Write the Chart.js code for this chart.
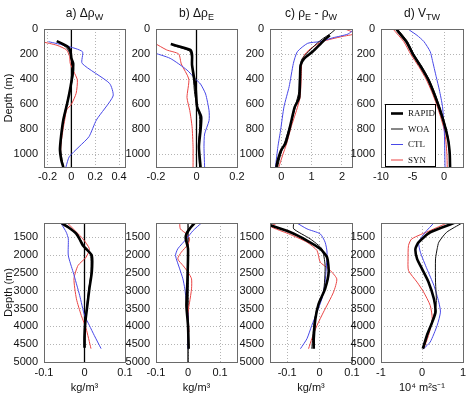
<!DOCTYPE html>
<html>
<head>
<meta charset="utf-8">
<script src="https://cdn.jsdelivr.net/npm/chart.js@4.4.0/dist/chart.umd.min.js"></script>
<style>
  html, body { margin: 0; padding: 0; background: #fff; }
  #wrap { position: relative; width: 474px; height: 397px; overflow: hidden; }
  #wrap canvas { position: absolute; left: 0; top: 0; }
</style>
</head>
<body>
<div id="wrap"></div>
<script>
// ---- tick values ----
const topDepthTicks = [0, 200, 400, 600, 800, 1000];
const botDepthTicks = [1500, 2000, 2500, 3000, 3500, 4000, 4500, 5000];
const aTopTicks = [-0.2, 0, 0.2, 0.4];
const bTopTicks = [-0.2, 0, 0.2];
const cTopTicks = [0, 1, 2];
const dTopTicks = [-10, -5, 0];
const aBotTicks = [-0.1, 0, 0.1];
const bBotTicks = [-0.1, 0, 0.1];
const cBotTicks = [-0.1, 0, 0.1];
const dBotTicks = [-1, 0, 1];

// ---- a) delta rho W, 0-1100 m ----
const aTopRapidDepth = [96, 141, 181, 234, 274, 354, 460, 592, 725, 858, 964, 1044, 1100];
const aTopRapid      = [-0.123, -0.03, -0.007, 0.0, 0.015, 0.01, -0.007, -0.035, -0.068, -0.087, -0.096, -0.085, -0.068];
const aTopWoaDepth   = [110, 150, 200, 260, 330, 420, 520, 620, 730, 850, 960, 1060, 1100];
const aTopWoa        = [-0.10, -0.04, -0.01, 0.01, 0.02, 0.005, -0.02, -0.045, -0.07, -0.085, -0.09, -0.075, -0.065];
const aTopCtlDepth   = [101, 135, 181, 274, 433, 534, 725, 858, 938, 1018, 1100];
const aTopCtl        = [-0.193, -0.04, 0.093, 0.09, 0.32, 0.35, 0.21, 0.148, 0.065, -0.018, -0.046];
const aTopSynDepth   = [101, 130, 167, 220, 273, 340, 406, 512, 600, 645, 720, 800, 900, 1000, 1100];
const aTopSyn        = [-0.25, -0.12, -0.04, -0.015, -0.01, 0.02, 0.05, 0.04, 0.0, -0.04, -0.055, -0.07, -0.085, -0.09, -0.07];

// ---- b) delta rho E, 0-1100 m ----
const bTopRapidDepth = [120, 167, 207, 287, 460, 620, 700, 805, 938, 1100];
const bTopRapid      = [-0.127, -0.03, -0.022, -0.022, -0.005, 0.003, 0.023, 0.02, 0.012, 0.02];
const bTopWoaDepth   = [130, 175, 220, 300, 400, 500, 600, 700, 800, 900, 1000, 1100];
const bTopWoa        = [-0.12, -0.035, -0.025, -0.02, -0.015, -0.01, 0.0, 0.015, 0.015, 0.01, 0.012, 0.015];
const bTopCtlDepth   = [185, 234, 327, 399, 439, 518, 651, 730, 837, 938, 1100];
const bTopCtl        = [-0.22, -0.13, -0.047, -0.005, 0.02, 0.045, 0.062, 0.062, 0.04, 0.037, 0.04];
const bTopSynDepth   = [110, 167, 199, 279, 399, 546, 651, 778, 938, 1100];
const bTopSyn        = [-0.21, -0.147, -0.088, -0.075, -0.038, -0.047, -0.033, -0.022, -0.017, -0.017];

// ---- c) rho E - rho W, 0-1100 m ----
const cTopRapidDepth = [50, 80, 114, 181, 234, 287, 380, 546, 625, 778, 911, 964, 1044, 1100];
const cTopRapid      = [1.6, 1.45, 1.31, 1.03, 0.76, 0.64, 0.62, 0.59, 0.44, 0.29, 0.14, 0.0, -0.11, -0.16];
const cTopWoaDepth   = [0, 40, 80, 120, 180, 240, 300, 400, 500, 600, 700, 800, 900, 1000, 1100];
const cTopWoa        = [1.8, 1.6, 1.35, 1.15, 0.9, 0.68, 0.62, 0.6, 0.58, 0.48, 0.38, 0.25, 0.12, -0.02, -0.12];
const cTopCtlDepth   = [0, 40, 70, 101, 114, 181, 274, 460, 620, 805, 938, 1100];
const cTopCtl        = [2.4, 2.2, 1.7, 1.26, 0.87, 0.53, 0.4, 0.26, 0.09, -0.02, -0.11, -0.19];
const cTopSynDepth   = [0, 20, 40, 60, 100, 150, 200, 260, 380, 546, 651, 778, 911, 1011, 1100];
const cTopSyn        = [2.1, 2.3, 2.4, 2.0, 1.35, 1.0, 0.78, 0.68, 0.66, 0.62, 0.5, 0.33, 0.18, 0.04, -0.08];

// ---- d) V_TW, 0-1100 m ----
const dTopDepth      = [0, 100, 200, 300, 400, 500, 600, 700, 800, 900, 1000, 1100];
const dTopRapid      = [-7.6, -6.0, -4.95, -3.7, -2.55, -1.7, -0.96, -0.3, 0.27, 0.7, 0.9, 0.95];
const dTopWoa        = [-7.4, -5.8, -4.8, -3.5, -2.4, -1.55, -0.85, -0.2, 0.35, 0.75, 0.95, 1.0];
const dTopSyn        = [-8.1, -6.4, -5.3, -4.0, -2.85, -1.95, -1.2, -0.55, 0.0, 0.3, 0.45, 0.5];
const dTopCtlDepth   = [0, 50, 100, 180, 250, 380, 486, 618, 830, 1100];
const dTopCtl        = [-5.75, -4.3, -3.2, -2.2, -1.85, -1.25, -0.75, -0.25, 0.05, 0.15];

// ---- a) lower, 1100-5000 m ----
const aBotRapidDepth = [1100, 1220, 1405, 1600, 1730, 1850, 2010, 2480, 2945, 3412, 3878, 4300, 4600];
const aBotRapid      = [-0.057, -0.04, -0.02, -0.01, -0.004, 0.006, 0.018, 0.018, 0.012, 0.007, 0.002, 0.0, 0.0];
const aBotWoaDepth   = [1100, 1250, 1400, 1600, 1800, 2000, 2500, 3000, 3500, 4000, 4600];
const aBotWoa        = [-0.055, -0.035, -0.018, -0.008, 0.002, 0.015, 0.016, 0.01, 0.005, 0.002, 0.001];
const aBotCtlDepth   = [1125, 1360, 1545, 2012, 2480, 3130, 3692, 3972, 4252, 4625];
const aBotCtl        = [-0.057, -0.045, -0.04, -0.04, -0.028, -0.012, 0.0, 0.012, 0.024, 0.041];
const aBotSynDepth   = [1125, 1545, 1825, 2060, 2292, 2665, 3225, 3692, 4065, 4625];
const aBotSyn        = [-0.04, -0.004, 0.012, 0.004, -0.016, -0.026, -0.02, -0.008, 0.004, 0.016];

// ---- b) lower ----
const bBotRapidDepth = [1100, 1265, 1405, 1545, 1825, 2760, 3413, 3973, 4627];
const bBotRapid      = [0.021, 0.005, -0.005, -0.007, 0.0, -0.002, -0.005, 0.0, 0.002];
const bBotWoaDepth   = [1100, 1265, 1405, 1545, 1825, 2500, 3400, 4000, 4627];
const bBotWoa        = [0.016, 0.003, -0.006, -0.006, 0.0, -0.001, -0.003, 0.001, 0.002];
const bBotCtlDepth   = [1100, 1312, 1545, 1825, 2013, 2387, 2667, 2947, 3320, 3700, 4627];
const bBotCtl        = [0.042, 0.016, -0.005, -0.032, -0.039, -0.026, -0.016, -0.01, -0.005, 0.0, 0.0];
const bBotSynDepth   = [1100, 1265, 1405, 1545, 1700, 1919, 2107, 2300, 2480, 2667, 2947, 3320, 3600, 4160];
const bBotSyn        = [-0.026, -0.024, -0.005, 0.005, 0.0, -0.021, -0.032, -0.015, 0.0, 0.011, 0.011, 0.005, 0.0, 0.003];

// ---- c) lower ----
const cBotRapidDepth = [1140, 1360, 1592, 1825, 2060, 2480, 2947, 3367, 3787, 4347, 4627];
const cBotRapid      = [-0.16, -0.09, -0.039, 0.002, 0.023, 0.028, 0.017, -0.003, -0.013, -0.018, -0.018];
const cBotWoaDepth   = [1100, 1265, 1545, 1825, 2293, 3040, 3507, 3973, 4627];
const cBotWoa        = [-0.08, -0.08, -0.029, 0.007, 0.017, 0.012, -0.008, -0.018, -0.024];
const cBotCtlDepth   = [1100, 1265, 1405, 1638, 1919, 2760, 3227, 3600, 3973, 4347, 4627];
const cBotCtl        = [-0.07, -0.039, 0.002, 0.017, 0.023, 0.017, 0.007, -0.008, -0.024, -0.039, -0.059];
const cBotSynDepth   = [1100, 1200, 1405, 1638, 1872, 2200, 2387, 2667, 3040, 3600, 3973, 4347, 4627];
const cBotSyn        = [-0.131, -0.15, -0.095, -0.039, -0.008, 0.002, 0.028, 0.053, 0.043, 0.012, -0.008, -0.024, -0.034];

// ---- d) lower ----
const dBotRapidDepth = [1100, 1360, 1638, 1825, 2107, 2387, 2760, 3227, 3600, 3880, 4253, 4627];
const dBotRapid      = [0.78, 0.2, -0.08, -0.16, -0.12, 0.0, 0.16, 0.29, 0.33, 0.25, 0.12, 0.02];
const dBotWoaDepth   = [1100, 1360, 1638, 1825, 2107, 2760, 3320, 3693, 4160, 4627];
const dBotWoa        = [0.98, 0.6, 0.41, 0.37, 0.33, 0.33, 0.35, 0.29, 0.16, 0.04];
const dBotCtlDepth   = [1100, 1360, 1638, 1919, 2387, 2853, 3320, 3600, 3973, 4440, 4627];
const dBotCtl        = [0.29, 0.08, -0.08, -0.04, 0.12, 0.29, 0.41, 0.45, 0.37, 0.2, 0.04];
const dBotSynDepth   = [1100, 1312, 1545, 1733, 2107, 2433, 2760, 3040, 3413, 3787, 4253, 4627];
const dBotSyn        = [0.61, 0.2, -0.25, -0.33, -0.34, -0.33, -0.12, 0.04, 0.2, 0.25, 0.16, 0.04];

// ---- layout ----
const W = 474, H = 397;
const rows = { top: { t: 29, b: 167, yMin: 0, yMax: 1100, ticks: topDepthTicks, pad: 3 },
               bot: { t: 223, b: 362, yMin: 1100, yMax: 5000, ticks: botDepthTicks, pad: 4 } };
const cols = { a: { l: 44, r: 125 }, b: { l: 156, r: 237 }, c: { l: 270, r: 352 }, d: { l: 381, r: 463 } };

const styles = {
  RAPID: { color: '#000000', width: 2.6 },
  WOA:   { color: '#111111', width: 1 },
  CTL:   { color: '#4848e8', width: 1 },
  SYN:   { color: '#ea4444', width: 1 }
};

function line(name, depth, vals) {
  return {
    label: name,
    data: depth.map((d, i) => ({ x: vals[i], y: d })),
    showLine: true,
    borderColor: styles[name].color,
    borderWidth: styles[name].width,
    pointRadius: 0,
    tension: 0.2,
    fill: false
  };
}

const panels = [
  { col: 'a', row: 'top', xMin: -0.23, xMax: 0.45, xTicks: aTopTicks, zero: true, depthLabel: true,
    title: [['a) Δρ', 0], ['W', 1]],
    data: [line('RAPID', aTopRapidDepth, aTopRapid), line('WOA', aTopWoaDepth, aTopWoa),
           line('CTL', aTopCtlDepth, aTopCtl), line('SYN', aTopSynDepth, aTopSyn)] },
  { col: 'b', row: 'top', xMin: -0.2, xMax: 0.2, xTicks: bTopTicks, zero: true,
    title: [['b) Δρ', 0], ['E', 1]],
    data: [line('RAPID', bTopRapidDepth, bTopRapid), line('WOA', bTopWoaDepth, bTopWoa),
           line('CTL', bTopCtlDepth, bTopCtl), line('SYN', bTopSynDepth, bTopSyn)] },
  { col: 'c', row: 'top', xMin: -0.37, xMax: 2.33, xTicks: cTopTicks,
    title: [['c) ρ', 0], ['E', 1], [' - ρ', 0], ['W', 1]],
    data: [line('RAPID', cTopRapidDepth, cTopRapid), line('WOA', cTopWoaDepth, cTopWoa),
           line('CTL', cTopCtlDepth, cTopCtl), line('SYN', cTopSynDepth, cTopSyn)] },
  { col: 'd', row: 'top', xMin: -10, xMax: 3, xTicks: dTopTicks, legend: true,
    title: [['d) V', 0], ['TW', 1]],
    data: [line('RAPID', dTopDepth, dTopRapid), line('WOA', dTopDepth, dTopWoa),
           line('CTL', dTopCtlDepth, dTopCtl), line('SYN', dTopDepth, dTopSyn)] },
  { col: 'a', row: 'bot', xMin: -0.1, xMax: 0.1, xTicks: aBotTicks, zero: true, depthLabel: true, xTitle: 'kg/m³',
    data: [line('RAPID', aBotRapidDepth, aBotRapid), line('WOA', aBotWoaDepth, aBotWoa),
           line('CTL', aBotCtlDepth, aBotCtl), line('SYN', aBotSynDepth, aBotSyn)] },
  { col: 'b', row: 'bot', xMin: -0.1, xMax: 0.153, xTicks: bBotTicks, zero: true, xTitle: 'kg/m³',
    data: [line('RAPID', bBotRapidDepth, bBotRapid), line('WOA', bBotWoaDepth, bBotWoa),
           line('CTL', bBotCtlDepth, bBotCtl), line('SYN', bBotSynDepth, bBotSyn)] },
  { col: 'c', row: 'bot', xMin: -0.153, xMax: 0.1, xTicks: cBotTicks, xTitle: 'kg/m³',
    data: [line('RAPID', cBotRapidDepth, cBotRapid), line('WOA', cBotWoaDepth, cBotWoa),
           line('CTL', cBotCtlDepth, cBotCtl), line('SYN', cBotSynDepth, cBotSyn)] },
  { col: 'd', row: 'bot', xMin: -1, xMax: 1, xTicks: dBotTicks, xTitle: '10⁴ m²s⁻¹',
    data: [line('RAPID', dBotRapidDepth, dBotRapid), line('WOA', dBotWoaDepth, dBotWoa),
           line('CTL', dBotCtlDepth, dBotCtl), line('SYN', dBotSynDepth, dBotSyn)] }
];

const FONT = '"Liberation Sans", Arial, sans-serif';

// frame, zero line, titles and legend
const decor = {
  id: 'decor',
  beforeDatasetsDraw(chart) {
    const p = chart.options.plugins.decor;
    const a = chart.chartArea;
    if (p.zero) {
      const x = chart.scales.x.getPixelForValue(0);
      const ctx = chart.ctx;
      ctx.save();
      ctx.strokeStyle = '#000';
      ctx.lineWidth = 1.3;
      ctx.beginPath();
      ctx.moveTo(x, a.top);
      ctx.lineTo(x, a.bottom);
      ctx.stroke();
      ctx.restore();
    }
  },
  afterDraw(chart) {
    const p = chart.options.plugins.decor;
    const a = chart.chartArea;
    const ctx = chart.ctx;
    ctx.save();
    ctx.strokeStyle = '#6a6a6a';
    ctx.lineWidth = 1;
    ctx.strokeRect(Math.round(a.left) + 0.5, Math.round(a.top) + 0.5,
                   Math.round(a.right - a.left), Math.round(a.bottom - a.top));
    const cx = (a.left + a.right) / 2;
    ctx.fillStyle = '#111';

    if (p.title) {
      let total = 0;
      p.title.forEach(([t, sub]) => {
        ctx.font = (sub ? '9px ' : '12px ') + FONT;
        total += ctx.measureText(t).width;
      });
      let x = cx - total / 2;
      ctx.textAlign = 'left';
      ctx.textBaseline = 'alphabetic';
      p.title.forEach(([t, sub]) => {
        ctx.font = (sub ? '9px ' : '12px ') + FONT;
        ctx.fillText(t, x, sub ? 20 : 17);
        x += ctx.measureText(t).width;
      });
    }
    if (p.xTitle) {
      ctx.font = '11px ' + FONT;
      ctx.textAlign = 'center';
      ctx.textBaseline = 'middle';
      ctx.fillText(p.xTitle, cx, 388);
    }
    if (p.depthLabel) {
      ctx.font = '11px ' + FONT;
      ctx.textAlign = 'center';
      ctx.textBaseline = 'middle';
      ctx.translate(9, (a.top + a.bottom) / 2);
      ctx.rotate(-Math.PI / 2);
      ctx.fillText('Depth (m)', 0, 0);
      ctx.setTransform(1, 0, 0, 1, 0, 0);
    }
    if (p.legend) {
      const bx = 385, by = 104, bw = 50, bh = 62;
      ctx.fillStyle = '#fff';
      ctx.fillRect(bx, by, bw, bh);
      ctx.strokeStyle = '#000';
      ctx.lineWidth = 1;
      ctx.strokeRect(bx + 0.5, by + 0.5, bw, bh);
      ctx.font = '9px "Liberation Serif", "Times New Roman", serif';
      ctx.textAlign = 'left';
      ctx.textBaseline = 'middle';
      chart.data.datasets.forEach((ds, i) => {
        const y = by + 9.5 + i * 15.5;
        ctx.strokeStyle = ds.borderColor;
        ctx.lineWidth = ds.borderWidth;
        ctx.beginPath();
        ctx.moveTo(bx + 6, y);
        ctx.lineTo(bx + 18, y);
        ctx.stroke();
        ctx.fillStyle = '#111';
        ctx.fillText(ds.label, bx + 23, y + 0.5);
      });
    }
    ctx.restore();
  }
};

const wrap = document.getElementById('wrap');

panels.forEach(p => {
  const r = rows[p.row], c = cols[p.col];
  const cv = document.createElement('canvas');
  cv.width = W; cv.height = H;
  cv.style.width = W + 'px'; cv.style.height = H + 'px';
  wrap.appendChild(cv);

  // axis boxes take the whole margin so tick labels are not clipped
  new Chart(cv, {
    type: 'scatter',
    data: { datasets: p.data },
    options: {
      responsive: false,
      animation: false,
      devicePixelRatio: 1,
      layout: { padding: { left: 0, right: W - c.r, top: r.t, bottom: 0 } },
      plugins: {
        legend: { display: false },
        tooltip: { enabled: false },
        decor: { zero: p.zero, title: p.title, xTitle: p.xTitle, depthLabel: p.depthLabel, legend: p.legend }
      },
      scales: {
        x: {
          type: 'linear', min: p.xMin, max: p.xMax,
          afterBuildTicks: s => { s.ticks = p.xTicks.map(v => ({ value: v })); },
          afterFit: s => { s.height = H - r.b; },
          grid: { color: '#b4b4b4', lineWidth: 1, drawTicks: false },
          border: { display: false, dash: [1, 2] },
          ticks: { autoSkip: false, maxRotation: 0, padding: r.pad, color: '#111',
                   font: { family: FONT, size: 11 }, callback: v => String(v) }
        },
        y: {
          type: 'linear', reverse: true, min: r.yMin, max: r.yMax,
          afterBuildTicks: s => { s.ticks = r.ticks.map(v => ({ value: v })); },
          afterFit: s => { s.width = c.l; },
          grid: { color: '#b4b4b4', lineWidth: 1, drawTicks: false },
          border: { display: false, dash: [1, 2] },
          ticks: { autoSkip: false, padding: 6, color: '#111',
                   font: { family: FONT, size: 11 }, callback: v => String(v) }
        }
      }
    },
    plugins: [decor]
  });
});
</script>
</body>
</html>
